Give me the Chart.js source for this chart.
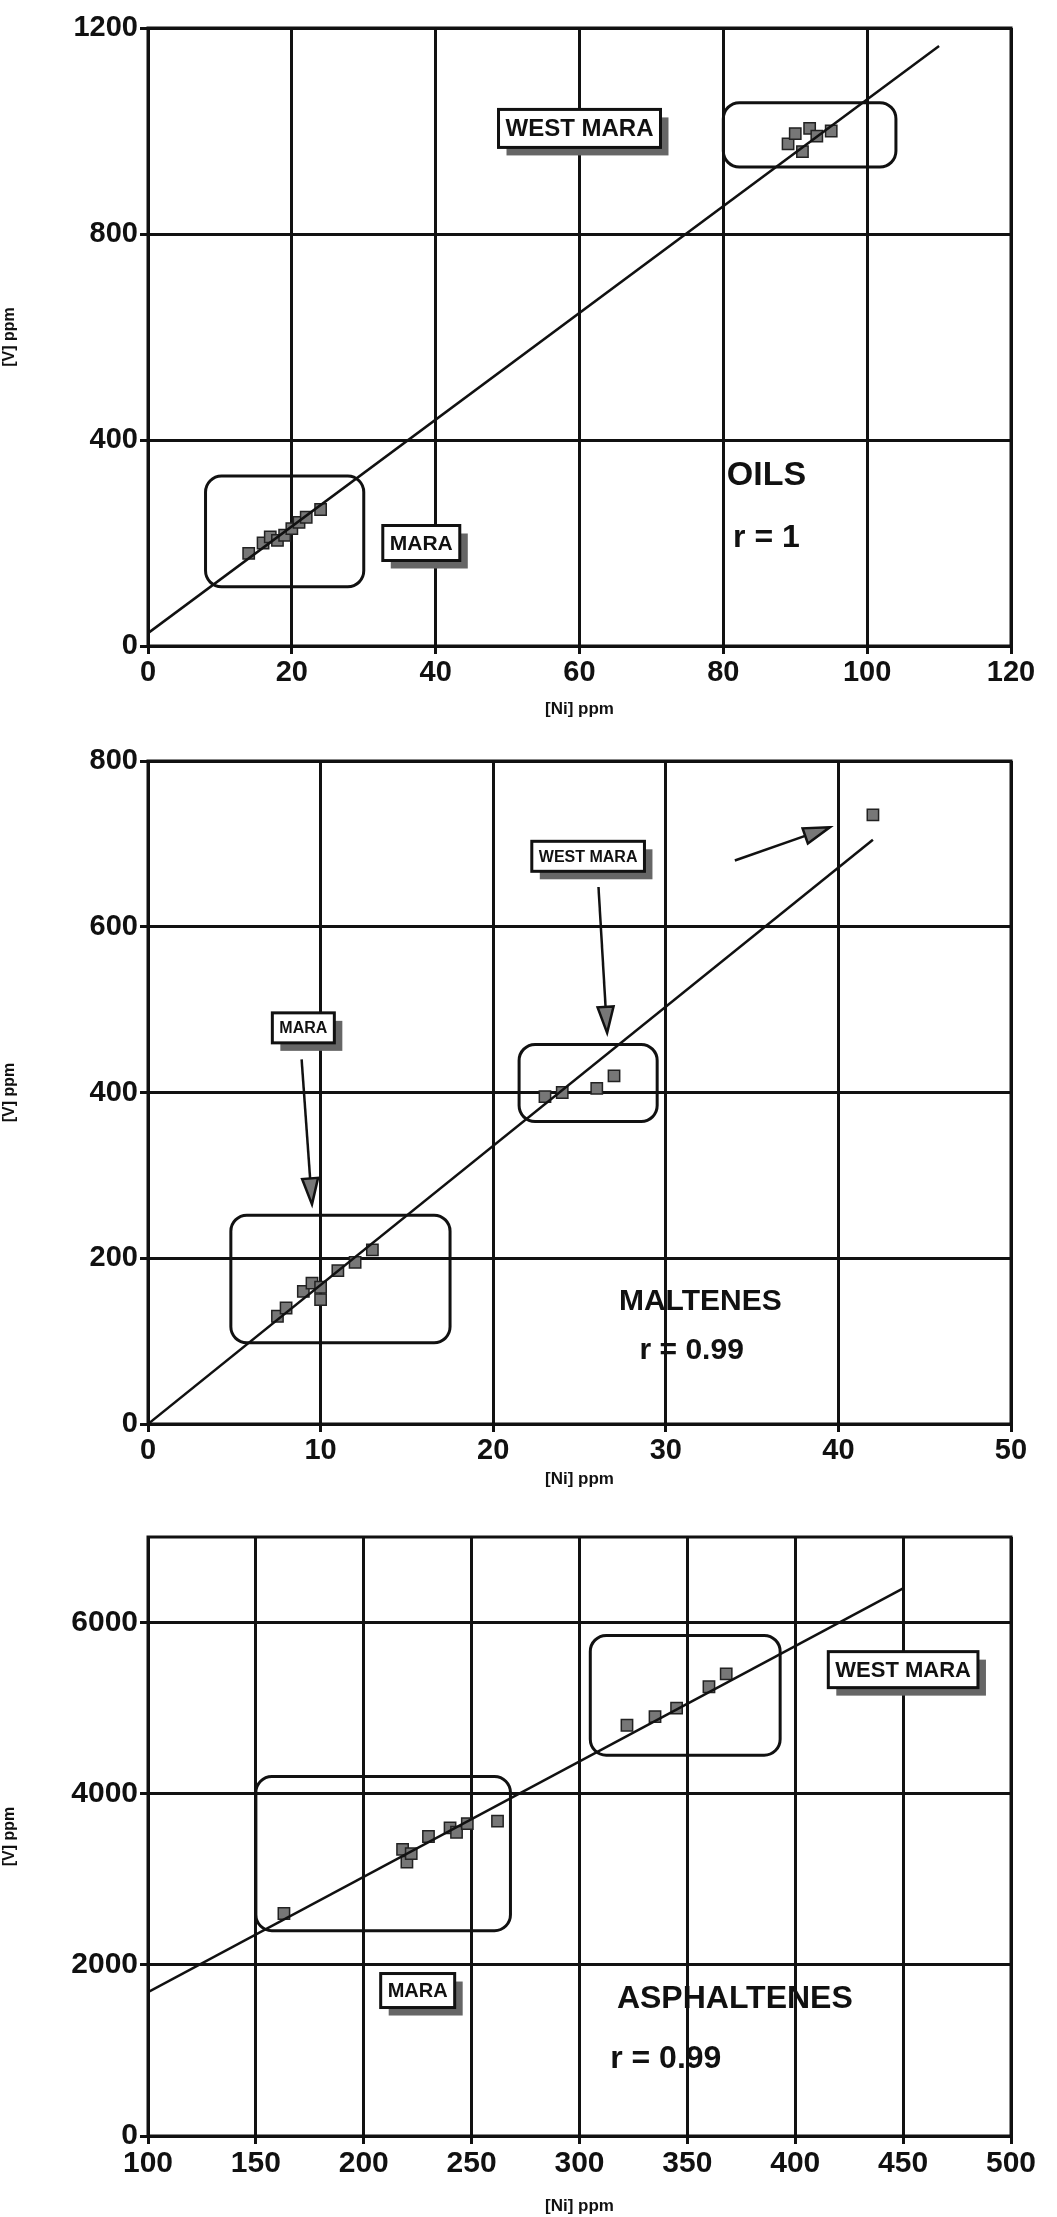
<!DOCTYPE html>
<html><head><meta charset="utf-8">
<script src="https://cdn.jsdelivr.net/npm/chart.js@4/dist/chart.umd.min.js"></script>
<style>
body{margin:0;background:#fff;width:1057px;height:2217px;overflow:hidden;position:relative}
.p{position:absolute;left:0;width:1057px}
</style></head><body>
<div class="p" style="top:0;height:720px"><canvas id="c1"></canvas></div>
<div class="p" style="top:720px;height:770px"><canvas id="c2"></canvas></div>
<div class="p" style="top:1490px;height:727px"><canvas id="c3"></canvas></div>
<script>
// Oils
var oilsMara = [[14,180],[16,200],[17,212],[18,205],[19,215],[20,228],[21,240],[22,250],[24,265]];
var oilsWest = [[89,975],[90,995],[91,960],[92,1005],[93,990],[95,1000]];
var oilsFit = [[0,25],[110,1165]];
// Maltenes
var maltMara = [[7.5,130],[8,140],[9,160],[9.5,170],[10,165],[10,150],[11,185],[12,195],[13,210]];
var maltWest = [[23,395],[24,400],[26,405],[27,420],[42,735]];
var maltFit = [[0,0],[42,705]];
// Asphaltenes
var asphMara = [[163,2600],[218,3350],[220,3200],[222,3300],[230,3500],[240,3600],[243,3550],[248,3650],[262,3680]];
var asphWest = [[322,4800],[335,4900],[345,5000],[360,5250],[368,5400]];
var asphFit = [[100,1680],[450,6400]];

var oilsNotes = [
  {t:"box",x1:8,y1:115,x2:30,y2:330},{t:"box",x1:80,y1:930,x2:104,y2:1055},
  {t:"label",s:"WEST MARA",x:60,y:1005,f:24},{t:"label",s:"MARA",x:38,y:200,f:21},
  {t:"text",s:"OILS",x:86,y:330,f:34},{t:"text",s:"r = 1",x:86,y:210,f:32}
];
var maltNotes = [
  {t:"box",x1:4.8,y1:98,x2:17.5,y2:252},{t:"box",x1:21.5,y1:365,x2:29.5,y2:458},
  {t:"label",s:"WEST MARA",x:25.5,y:685,f:16},{t:"label",s:"MARA",x:9,y:478,f:16},
  {t:"arrow",x1:8.9,y1:440,x2:9.5,y2:265},{t:"arrow",x1:26.1,y1:648,x2:26.6,y2:472},
  {t:"arrow",x1:34,y1:680,x2:39.5,y2:720},
  {t:"text",s:"MALTENES",x:32,y:148,f:30},{t:"text",s:"r = 0.99",x:31.5,y:88,f:30}
];
var asphNotes = [
  {t:"box",x1:150,y1:2400,x2:268,y2:4200},{t:"box",x1:305,y1:4450,x2:393,y2:5850},
  {t:"label",s:"WEST MARA",x:450,y:5450,f:22},{t:"label",s:"MARA",x:225,y:1700,f:20},
  {t:"text",s:"ASPHALTENES",x:372,y:1600,f:32},{t:"text",s:"r = 0.99",x:340,y:900,f:32}
];

function rr(ctx,x,y,w,h,r){ctx.beginPath();ctx.moveTo(x+r,y);ctx.arcTo(x+w,y,x+w,y+h,r);ctx.arcTo(x+w,y+h,x,y+h,r);ctx.arcTo(x,y+h,x,y,r);ctx.arcTo(x,y,x+w,y,r);ctx.closePath();}

var notesPlugin = {
  id: "notes",
  beforeDatasetsDraw: function (chart) {
    var a = chart.chartArea, ctx = chart.ctx;
    ctx.save(); ctx.lineWidth = 3; ctx.strokeStyle = "#111";
    ctx.strokeRect(a.left, a.top, a.right - a.left, a.bottom - a.top);
    ctx.restore();
  },
  afterDatasetsDraw: function (chart, args, opts) {
    var ctx = chart.ctx, xs = chart.scales.x, ys = chart.scales.y;
    ctx.save();
    (opts.items || []).forEach(function (n) {
      if (n.t === "box") {
        var a = xs.getPixelForValue(n.x1), b = xs.getPixelForValue(n.x2);
        var c = ys.getPixelForValue(n.y2), d = ys.getPixelForValue(n.y1);
        ctx.lineWidth = 3; ctx.strokeStyle = "#111";
        rr(ctx, a, c, b - a, d - c, 16); ctx.stroke();
      } else if (n.t === "label") {
        ctx.font = "bold " + n.f + "px 'Liberation Sans', Arial";
        var w = ctx.measureText(n.s).width + 14, h = n.f + 14;
        var x = xs.getPixelForValue(n.x) - w / 2, y = ys.getPixelForValue(n.y) - h / 2;
        ctx.fillStyle = "#666"; ctx.fillRect(x + 8, y + 8, w, h);
        ctx.fillStyle = "#fff"; ctx.fillRect(x, y, w, h);
        ctx.lineWidth = 3; ctx.strokeStyle = "#111"; ctx.strokeRect(x, y, w, h);
        ctx.fillStyle = "#111"; ctx.textAlign = "center"; ctx.textBaseline = "middle";
        ctx.fillText(n.s, x + w / 2, y + h / 2 + 1);
      } else if (n.t === "text") {
        ctx.font = "bold " + n.f + "px 'Liberation Sans', Arial";
        ctx.fillStyle = "#111"; ctx.textAlign = "center"; ctx.textBaseline = "middle";
        ctx.fillText(n.s, xs.getPixelForValue(n.x), ys.getPixelForValue(n.y));
      } else if (n.t === "arrow") {
        var x1 = xs.getPixelForValue(n.x1), y1 = ys.getPixelForValue(n.y1);
        var x2 = xs.getPixelForValue(n.x2), y2 = ys.getPixelForValue(n.y2);
        var ang = Math.atan2(y2 - y1, x2 - x1);
        ctx.lineWidth = 2.5; ctx.strokeStyle = "#111";
        ctx.beginPath(); ctx.moveTo(x1, y1); ctx.lineTo(x2 - 20 * Math.cos(ang), y2 - 20 * Math.sin(ang)); ctx.stroke();
        ctx.beginPath(); ctx.moveTo(x2, y2);
        ctx.lineTo(x2 - 26 * Math.cos(ang) + 8 * Math.sin(ang), y2 - 26 * Math.sin(ang) - 8 * Math.cos(ang));
        ctx.lineTo(x2 - 26 * Math.cos(ang) - 8 * Math.sin(ang), y2 - 26 * Math.sin(ang) + 8 * Math.cos(ang));
        ctx.closePath(); ctx.fillStyle = "#777"; ctx.fill(); ctx.stroke();
      }
    });
    ctx.restore();
  }
};

function pts(a) { return a.map(function (p) { return { x: p[0], y: p[1] }; }); }
function plain(v) { return String(v); }

function makeChart(id, mara, west, fit, notes, xr, yr, pad, yW, xH, tickSize) {
  var yTicks = yr.ticks;
  var font = { family: "'Liberation Sans', Arial", weight: "bold", size: tickSize };
  return new Chart(document.getElementById(id), {
    type: "scatter",
    data: { datasets: [
      { data: pts(fit), showLine: true, borderColor: "#111", borderWidth: 2.5, pointRadius: 0 },
      { data: pts(mara), pointStyle: "rect", pointRadius: 8, backgroundColor: "#777", borderColor: "#222", borderWidth: 1.5 },
      { data: pts(west), pointStyle: "rect", pointRadius: 8, backgroundColor: "#777", borderColor: "#222", borderWidth: 1.5 }
    ] },
    plugins: [notesPlugin],
    options: {
      responsive: true, maintainAspectRatio: false, animation: false,
      layout: { padding: pad },
      plugins: { legend: { display: false }, tooltip: { enabled: false }, notes: { items: notes } },
      scales: {
        x: {
          type: "linear", min: xr.min, max: xr.max,
          afterFit: function (s) { s.height = xH; },
          ticks: { stepSize: xr.step, color: "#111", font: font, padding: 2, callback: plain },
          grid: { color: "#111", lineWidth: 3, tickLength: 8 },
          border: { color: "#111", width: 3 },
          title: { display: true, text: "[Ni] ppm", color: "#111", font: { family: "'Liberation Sans', Arial", weight: "bold", size: 17 }, padding: 0 }
        },
        y: {
          type: "linear", min: yr.min, max: yr.max,
          afterFit: function (s) { s.width = yW; },
          afterBuildTicks: function (s) { s.ticks = yTicks.map(function (v) { return { value: v }; }); },
          ticks: { color: "#111", font: font, padding: 2, callback: plain },
          grid: { color: "#111", lineWidth: 3, tickLength: 8 },
          border: { color: "#111", width: 3 },
          title: { display: true, text: "[V] ppm", color: "#111", font: { family: "'Liberation Sans', Arial", weight: "bold", size: 16 }, padding: 0 }
        }
      }
    }
  });
}

makeChart("c1", oilsMara, oilsWest, oilsFit, oilsNotes,
  { min: 0, max: 120, step: 20 }, { min: 0, max: 1200, ticks: [0, 400, 800, 1200] },
  { top: 28, right: 46, left: 0, bottom: 0 }, 148, 74, 29);
makeChart("c2", maltMara, maltWest, maltFit, maltNotes,
  { min: 0, max: 50, step: 10 }, { min: 0, max: 800, ticks: [0, 200, 400, 600, 800] },
  { top: 41, right: 46, left: 0, bottom: 0 }, 148, 66, 29);
makeChart("c3", asphMara, asphWest, asphFit, asphNotes,
  { min: 100, max: 500, step: 50 }, { min: 0, max: 7000, ticks: [0, 2000, 4000, 6000] },
  { top: 47, right: 46, left: 0, bottom: 0 }, 148, 81, 30);
</script></body></html>
